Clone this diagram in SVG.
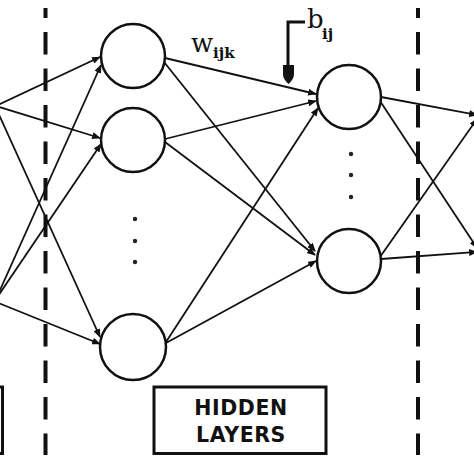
<svg xmlns="http://www.w3.org/2000/svg" width="474" height="474" viewBox="0 0 474 474">
<style>
.node{fill:#fff;stroke:#111;stroke-width:2.5}
.edge{stroke:#111;stroke-width:1.8;fill:none;marker-end:url(#arr)}
.dash{stroke:#111;stroke-width:4;stroke-dasharray:22.5 14;stroke-dashoffset:12.5}
.dot{fill:#222}
.box{fill:#fff;stroke:#111;stroke-width:3}
.lbl{font-family:"DejaVu Sans",sans-serif;font-weight:bold;font-size:20.5px;fill:#111;text-anchor:middle;letter-spacing:0.6px}
.math{font-family:"DejaVu Serif",serif;fill:#111}
</style>
<defs>
<marker id="arr" viewBox="0 0 10 8" refX="9" refY="4" markerWidth="9" markerHeight="7" markerUnits="userSpaceOnUse" orient="auto">
<path d="M0,0 L10,4 L0,8 Z" fill="#111"/>
</marker>
</defs>
<rect width="474" height="474" fill="#fff"/>
<g id="separators">
<line class="dash" x1="45.5" y1="8" x2="45.5" y2="455"/>
<line class="dash" x1="418" y1="8" x2="418" y2="455"/>
</g>
<g id="connectors">
<line class="edge" x1="-4" y1="106" x2="100" y2="57"/>
<line class="edge" x1="-4" y1="106" x2="100" y2="138"/>
<line class="edge" x1="-4" y1="108" x2="100" y2="337"/>
<line class="edge" x1="-4" y1="299" x2="101" y2="65"/>
<line class="edge" x1="-4" y1="299" x2="101" y2="144"/>
<line class="edge" x1="-4" y1="302" x2="100" y2="344"/>
<line class="edge" x1="165" y1="58" x2="316" y2="94"/>
<line class="edge" x1="165" y1="139" x2="316" y2="101"/>
<line class="edge" x1="166" y1="342" x2="318" y2="108"/>
<line class="edge" x1="164" y1="62" x2="315" y2="251"/>
<line class="edge" x1="165" y1="142" x2="315" y2="255"/>
<line class="edge" x1="166" y1="343" x2="316" y2="261"/>
<line class="edge" x1="381" y1="97" x2="477" y2="115"/>
<line class="edge" x1="380" y1="101" x2="477" y2="248"/>
<line class="edge" x1="380" y1="257" x2="477" y2="119"/>
<line class="edge" x1="381" y1="259" x2="477" y2="252"/>
</g>
<g id="h1-n1"><circle class="node" cx="133" cy="56" r="32"/></g>
<g id="h1-n2"><circle class="node" cx="133" cy="140" r="32"/></g>
<g id="h1-dots"><circle class="dot" cx="135" cy="219" r="2.2"/><circle class="dot" cx="135" cy="241" r="2.2"/><circle class="dot" cx="135" cy="262" r="2.2"/></g>
<g id="h1-n3"><circle class="node" cx="133" cy="347" r="33"/></g>
<g id="h2-n1"><circle class="node" cx="349" cy="97" r="32"/></g>
<g id="h2-dots"><circle class="dot" cx="351" cy="154" r="2.2"/><circle class="dot" cx="351" cy="175" r="2.2"/><circle class="dot" cx="351" cy="197" r="2.2"/></g>
<g id="h2-n2"><circle class="node" cx="349" cy="261" r="32"/></g>
<g id="weight-label">
<text class="math" x="191" y="52" font-size="26">w</text>
<text class="math" x="213" y="58" font-size="15" font-weight="bold">ijk</text>
</g>
<g id="bias">
<path d="M286.5,22 H305 M288,22 V67" stroke="#111" stroke-width="3" fill="none"/>
<path d="M283,65 L294,65 L294,74 Q294,79 288.5,84 Q283,79 283,74 Z" fill="#111"/>
<text class="math" x="307" y="28" font-size="26">b</text>
<text class="math" x="322" y="39" font-size="15" font-weight="bold">ij</text>
</g>
<g id="input-box">
<rect class="box" x="-100" y="387" width="102.5" height="66.5"/>
</g>
<g id="hidden-box">
<rect class="box" x="154" y="387" width="172" height="66.5"/>
<text class="lbl" x="241" y="415">HIDDEN</text>
<text class="lbl" x="241" y="442">LAYERS</text>
</g>
</svg>
